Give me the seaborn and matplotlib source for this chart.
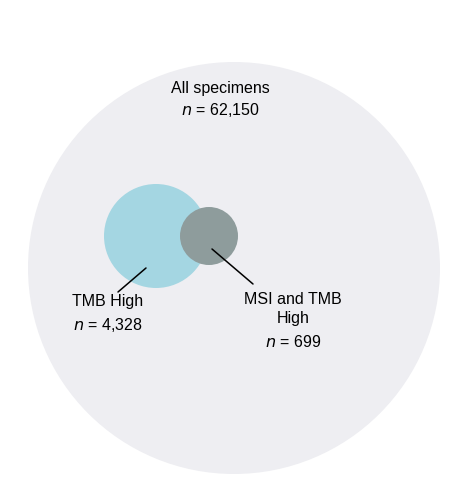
import matplotlib
matplotlib.use("Agg")
import matplotlib.pyplot as plt
import seaborn as sns
from matplotlib.patches import Circle

# set names, counts and where they sit (pixel coordinates of the reference)
set_names = ["All specimens", "TMB High", "MSI and TMB\nHigh"]
set_counts = [62150, 4328, 699]
centers = [(234, 268), (156, 236), (209, 236)]
radii = [206, 52, 29]
colors = ["#eeeef2", "#a4d6e2", "#8e9c9c"]
name_pos = [(220, 88), (108, 301), (293, 309)]
count_pos = [(220, 110), (108, 325), (293, 342)]
leader_lines = [None, ((146, 268), (118, 292)), ((212, 249), (253, 284))]

sns.set_theme(style="white")
plt.rcParams['font.family'] = ['Liberation Sans', 'DejaVu Sans']

fig = plt.figure(figsize=(4.62, 4.9), dpi=100)
ax = fig.add_axes([0, 0, 1, 1])
ax.set_xlim(0, 462)
ax.set_ylim(490, 0)
ax.set_aspect("equal")
ax.axis("off")

for c, r, col in zip(centers, radii, colors):
    ax.add_patch(Circle(c, r, facecolor=col, edgecolor="none"))

for name, n, npos, cpos, line in zip(set_names, set_counts, name_pos, count_pos, leader_lines):
    ax.text(*npos, name, ha="center", va="center", fontsize=11.5, linespacing=1.35, color="black")
    ax.text(*cpos, "$n$ = {:,}".format(n), ha="center", va="center", fontsize=11.5, color="black")
    if line:
        ax.plot([line[0][0], line[1][0]], [line[0][1], line[1][1]], color="black", lw=1.1)

fig.savefig("out.png", dpi=100)
